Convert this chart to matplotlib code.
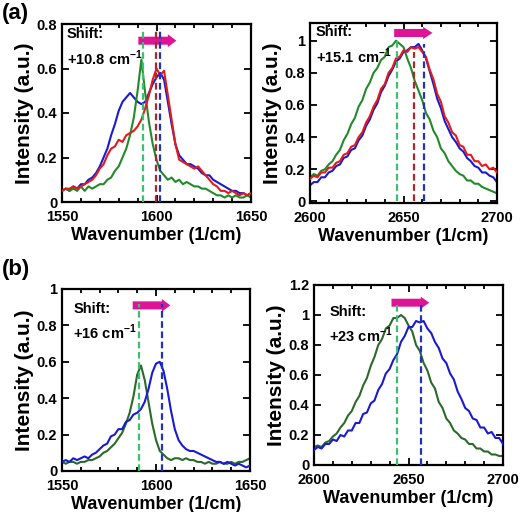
import matplotlib
matplotlib.use("Agg")
import matplotlib.pyplot as plt
from matplotlib.ticker import FormatStrFormatter, MultipleLocator

plt.rcParams["font.family"] = ["Liberation Sans", "DejaVu Sans"]
plt.rcParams["font.weight"] = "bold"
plt.rcParams["mathtext.fontset"] = "custom"
plt.rcParams["mathtext.rm"] = "Liberation Sans:bold"
plt.rcParams["mathtext.bf"] = "Liberation Sans:bold"

GREEN = "#23892b"
GREEN_DARK = "#2b6a2b"
BLUE = "#1a1ad2"
RED = "#e31b1b"
GREEN_DASH = "#3cc070"
RED_DASH = "#a8282c"
BLUE_DASH = "#2233bb"
ARROW = "#dd1496"
LW = 1.5

# G band (a) and (b)
G_WAVENUMBER = [
    1550, 1552, 1554, 1556, 1558, 1560, 1562, 1564, 1566, 1568,
    1570, 1572, 1574, 1576, 1578, 1580, 1582, 1584, 1586, 1588,
    1590, 1592, 1594, 1596, 1598, 1600, 1602, 1604, 1606, 1608,
    1610, 1612, 1614, 1616, 1618, 1620, 1622, 1624, 1626, 1628,
    1630, 1632, 1634, 1636, 1638, 1640, 1642, 1644, 1646, 1648,
    1650,
]
A_GREEN = [
    .05, .06, .05, .06, .05, .07, .05, .07, .06, .07,
    .08, .08, .10, .11, .14, .16, .20, .24, .30, .38,
    .50, .64, .49, .36, .26, .19, .14, .12, .10, .11,
    .09, .10, .08, .09, .08, .07, .07, .06, .06, .05,
    .04, .03, .03, .02, .03, .02, .03, .02, .02, .03,
    .02,
]
A_BLUE = [
    .05, .06, .05, .07, .06, .08, .08, .10, .11, .13,
    .16, .20, .24, .30, .35, .41, .45, .47, .49, .47,
    .45, .44, .45, .49, .53, .56, .58, .55, .45, .35,
    .26, .21, .19, .17, .17, .16, .15, .13, .12, .12,
    .10, .09, .08, .07, .06, .05, .05, .04, .04, .03,
    .04,
]
A_RED = [
    .05, .06, .06, .07, .06, .07, .08, .09, .10, .12,
    .15, .17, .21, .24, .25, .28, .27, .30, .31, .32,
    .34, .37, .42, .48, .55, .60, .57, .59, .48, .37,
    .26, .19, .18, .17, .16, .15, .16, .14, .12, .10,
    .08, .07, .05, .05, .04, .05, .04, .03, .04, .03,
    .04,
]
C_GREEN = [
    .05, .04, .05, .05, .04, .05, .05, .06, .06, .07,
    .08, .10, .11, .13, .15, .18, .21, .26, .32, .41,
    .53, .58, .50, .38, .26, .17, .11, .09, .07, .06,
    .07, .07, .06, .07, .06, .06, .05, .05, .04, .05,
    .04, .04, .05, .04, .04, .05, .04, .05, .05, .06,
    .07,
]
C_BLUE = [
    .05, .06, .05, .07, .06, .07, .08, .07, .09, .10,
    .12, .14, .15, .19, .20, .23, .23, .27, .28, .31,
    .32, .34, .38, .45, .54, .59, .60, .55, .45, .33,
    .23, .17, .14, .12, .11, .11, .10, .09, .08, .07,
    .06, .05, .05, .04, .05, .04, .03, .04, .03, .02,
    .03,
]

# 2D band (a) and (b)
D_WAVENUMBER = [
    2600, 2602, 2604, 2606, 2608, 2610, 2612, 2614, 2616, 2618,
    2620, 2622, 2624, 2626, 2628, 2630, 2632, 2634, 2636, 2638,
    2640, 2642, 2644, 2646, 2648, 2650, 2652, 2654, 2656, 2658,
    2660, 2662, 2664, 2666, 2668, 2670, 2672, 2674, 2676, 2678,
    2680, 2682, 2684, 2686, 2688, 2690, 2692, 2694, 2696, 2698,
    2700,
]
B_GREEN = [
    .15, .17, .16, .19, .20, .23, .25, .29, .32, .38,
    .42, .48, .52, .59, .63, .70, .74, .80, .83, .88,
    .90, .96, .97, 1.00, .98, .96, .89, .83, .75, .69,
    .63, .55, .51, .44, .40, .33, .30, .25, .22, .19,
    .17, .16, .13, .13, .11, .11, .09, .08, .07, .06,
    .05,
]
B_BLUE = [
    .10, .12, .12, .15, .15, .18, .19, .22, .23, .27,
    .28, .32, .33, .38, .41, .47, .51, .57, .61, .68,
    .72, .78, .82, .87, .89, .93, .94, .96, .96, .98,
    .94, .89, .81, .73, .64, .58, .50, .45, .40, .37,
    .33, .31, .27, .25, .22, .21, .18, .18, .16, .15,
    .12,
]
B_RED = [
    .14, .16, .15, .18, .18, .21, .21, .24, .25, .29,
    .30, .34, .35, .40, .43, .49, .53, .59, .63, .70,
    .73, .80, .83, .89, .90, .94, .93, .96, .95, .96,
    .93, .90, .82, .76, .67, .62, .53, .49, .43, .41,
    .35, .34, .29, .29, .25, .25, .22, .23, .20, .21,
    .18,
]
D_GREEN = [
    .12, .13, .12, .15, .16, .19, .21, .25, .28, .33,
    .36, .42, .46, .53, .58, .66, .72, .80, .84, .91,
    .93, .98, .98, 1.00, .98, .93, .89, .80, .76, .68,
    .63, .55, .51, .42, .38, .31, .28, .23, .21, .18,
    .17, .14, .14, .11, .11, .09, .09, .07, .07, .06,
    .06,
]
D_BLUE = [
    .10, .12, .11, .14, .14, .17, .16, .20, .19, .23,
    .23, .28, .28, .34, .35, .41, .43, .50, .54, .61,
    .64, .70, .74, .82, .86, .92, .92, .96, .95, .96,
    .91, .88, .82, .78, .71, .68, .61, .57, .49, .44,
    .38, .36, .31, .30, .25, .25, .21, .22, .18, .18,
    .14,
]

# peak positions (dashed markers) and their vertical extent
A_PEAKS = [1593.0, 1599.6, 1602.0]
A_PEAK_TOP = [0.78, 0.78, 0.78]
B_PEAKS = [2646.5, 2655.5, 2660.8]
B_PEAK_TOP = [1.00, 0.93, 0.98]
C_PEAKS = [1591.1, 1603.0]
C_PEAK_TOP = [0.92, 0.92]
D_PEAKS = [2644.0, 2656.6]
D_PEAK_TOP = [1.08, 1.08]

SHIFT_LABELS = ["+10.8", "+15.1", "+16", "+23"]


def style_axis(axis, xlim, ylim, yticks):
    axis.set_xlim(*xlim)
    axis.set_ylim(*ylim)
    axis.set_xticks([xlim[0], (xlim[0] + xlim[1]) / 2, xlim[1]])
    axis.xaxis.set_minor_locator(MultipleLocator(10))
    axis.set_yticks(yticks)
    axis.yaxis.set_major_formatter(FormatStrFormatter("%g"))
    axis.tick_params(which="both", direction="in", top=True, right=True, width=1.3)
    axis.tick_params(which="major", length=5, labelsize=10.5)
    axis.tick_params(which="minor", length=3)
    axis.tick_params(axis="x", pad=6)
    for spine in axis.spines.values():
        spine.set_linewidth(1.6)
    axis.set_xlabel("Wavenumber (1/cm)", fontsize=13, fontweight="bold", labelpad=2)
    axis.set_ylabel("Intensity (a.u.)", fontsize=15, fontweight="bold", labelpad=2)


def draw_shift(axis, x0, x1, y, body, head, head_len, text_xy, shift):
    axis.arrow(x0, y, x1 - x0, 0, width=body, head_width=head, head_length=head_len,
               length_includes_head=True, color=ARROW, lw=0, zorder=4)
    axis.text(text_xy[0], text_xy[1], "Shift:\n" + shift + r" cm$^{-1}$",
              fontsize=10.5, fontweight="bold", va="top", ha="left",
              linespacing=1.45, zorder=6)


def draw_peaks(axis, positions, tops, colors):
    for pos, top, color in zip(positions, tops, colors):
        axis.vlines(pos, 0.0, top, colors=color, linestyles=(0, (3, 1.6)),
                    lw=1.6, zorder=5)


def main():
    fig = plt.figure(figsize=(5.2, 5.12), dpi=100)
    W, H = 520, 512

    def place(l, r, t, b):
        return fig.add_axes([l / W, 1 - b / H, (r - l) / W, (b - t) / H])

    ax_a = place(62, 251, 24, 202)
    ax_b = place(310, 497, 23, 203)
    ax_c = place(62, 250, 289, 471)
    ax_d = place(314, 503, 285, 465)

    # (a) G band
    ax_a.plot(G_WAVENUMBER, A_BLUE, color=BLUE, lw=LW, zorder=2)
    ax_a.plot(G_WAVENUMBER, A_GREEN, color=GREEN, lw=LW, zorder=2)
    ax_a.plot(G_WAVENUMBER, A_RED, color=RED, lw=LW, zorder=3)
    draw_shift(ax_a, 1590.4, 1610.5, 0.725, 0.036, 0.058, 4.5, (1552.5, 0.785),
               SHIFT_LABELS[0])
    draw_peaks(ax_a, A_PEAKS, A_PEAK_TOP, [GREEN_DASH, RED_DASH, BLUE_DASH])
    style_axis(ax_a, (1550, 1650), (0, 0.8), [0, 0.2, 0.4, 0.6, 0.8])

    # (a) 2D band
    ax_b.plot(D_WAVENUMBER, B_GREEN, color=GREEN, lw=LW, zorder=2)
    ax_b.plot(D_WAVENUMBER, B_BLUE, color=BLUE, lw=LW, zorder=2)
    ax_b.plot(D_WAVENUMBER, B_RED, color=RED, lw=LW, zorder=3)
    draw_shift(ax_b, 2645.0, 2665.5, 1.048, 0.05, 0.075, 5.0, (2603, 1.095),
               SHIFT_LABELS[1])
    draw_peaks(ax_b, B_PEAKS, B_PEAK_TOP, [GREEN_DASH, RED_DASH, BLUE_DASH])
    style_axis(ax_b, (2600, 2700), (-0.01, 1.11), [0, 0.2, 0.4, 0.6, 0.8, 1])

    # (b) G band
    ax_c.plot(G_WAVENUMBER, C_GREEN, color=GREEN_DARK, lw=LW, zorder=2)
    ax_c.plot(G_WAVENUMBER, C_BLUE, color=BLUE, lw=LW, zorder=3)
    draw_shift(ax_c, 1587.6, 1607.6, 0.91, 0.044, 0.07, 4.5, (1556, 0.93),
               SHIFT_LABELS[2])
    draw_peaks(ax_c, C_PEAKS, C_PEAK_TOP, [GREEN_DASH, BLUE_DASH])
    style_axis(ax_c, (1550, 1650), (0, 1.0), [0, 0.2, 0.4, 0.6, 0.8, 1])

    # (b) 2D band
    ax_d.plot(D_WAVENUMBER, D_GREEN, color=GREEN_DARK, lw=LW, zorder=2)
    ax_d.plot(D_WAVENUMBER, D_BLUE, color=BLUE, lw=LW, zorder=3)
    draw_shift(ax_d, 2641.0, 2661.0, 1.082, 0.053, 0.08, 4.5, (2608, 1.07),
               SHIFT_LABELS[3])
    draw_peaks(ax_d, D_PEAKS, D_PEAK_TOP, [GREEN_DASH, BLUE_DASH])
    style_axis(ax_d, (2600, 2700), (0, 1.2), [0, 0.2, 0.4, 0.6, 0.8, 1, 1.2])

    fig.text(2 / W, 1 - 3 / H, "(a)", fontsize=16, fontweight="bold", va="top", ha="left")
    fig.text(2 / W, 1 - 259 / H, "(b)", fontsize=16, fontweight="bold", va="top", ha="left")

    fig.savefig("out.png", dpi=100)
    plt.close(fig)


if __name__ == "__main__":
    main()
